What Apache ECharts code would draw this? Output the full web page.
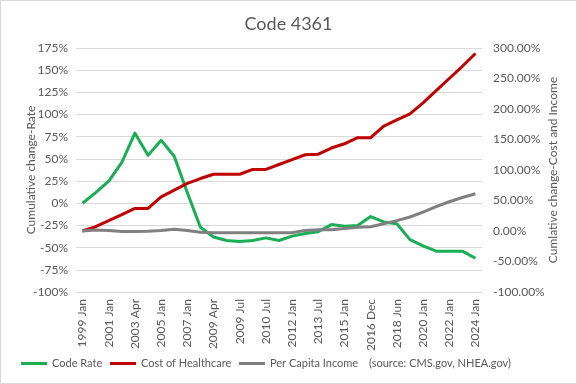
<!DOCTYPE html>
<html>
<head>
<meta charset="utf-8">
<script src="https://cdn.jsdelivr.net/npm/echarts@6/dist/echarts.min.js"></script>
<style>
html,body{margin:0;padding:0;background:#fff;}
#c{width:575px;height:382px;border:1px solid #d9d9d9;}
</style>
</head>
<body>
<div id="c"></div>
<script>
const categories = ['1999 Jan','2000 Jan','2001 Jan','2002 Jan','2003 Apr','2004 Jan','2005 Jan','2006 Jan','2007 Jan','2008 Jan',
  '2009 Apr','2009 Jan','2009 Jul','2010 Jan','2010 Jul','2011 Jan','2012 Jan','2012 Jul','2013 Jul','2014 Jan',
  '2015 Jan','2016 Jan','2016 Dec','2017 Jul','2018 Jun','2019 Jan','2020 Jan','2021 Jan','2022 Jan','2023 Jan','2024 Jan'];
const codeRate = [0, 12, 25, 46, 79, 54, 71, 53, 12, -27, -38, -42, -43, -42, -39, -42, -37, -34, -32, -24, -26, -25, -15, -21, -23, -41, -48, -54, -54, -54, -62];
const costHealthcare = [0, 7, 17, 27, 37, 37, 56, 67, 78, 86, 93, 93, 93, 101, 101, 109, 117, 125, 126, 136, 143, 153, 153, 172, 182, 192, 210, 230, 250, 270, 291];
const perCapitaIncome = [0, 1.5, 1, -1, -1, -0.5, 1, 3, 1, -2, -3, -3, -3, -3, -3, -3, -3, 1, 2, 2, 4, 6, 7, 12, 17, 23, 31, 40, 48, 55, 61];
const leftTicks = {min: -100, max: 175, interval: 25};
const rightTicks = {min: -100, max: 300, interval: 50};
const seriesNames = ['Code Rate', 'Cost of Healthcare', 'Per Capita Income'];
const sourceNote = '(source: CMS.gov, NHEA.gov)';

const txt = '#595959';
const font = 'Lato, "Noto Sans", sans-serif';
const fs = 12;
const lfs = 11;
const legendLefts = [20, 109, 238];
const chart = echarts.init(document.getElementById('c'));
chart.setOption({
  animation: false,
  textStyle: {fontFamily: font, color: txt},
  title: {text: 'Code 4361', left: 'center', top: 9,
    textStyle: {fontFamily: font, fontSize: 18, fontWeight: 'normal', color: txt}},
  grid: {left: 75, right: 94, top: 47, bottom: 91, containLabel: false},
  legend: seriesNames.map((n, i) => ({
    bottom: 14, left: legendLefts[i], padding: 0, itemWidth: 26, itemHeight: 3, icon: 'rect',
    textStyle: {fontFamily: font, fontSize: lfs, color: txt},
    data: [n]
  })),
  graphic: [{type: 'text', left: 368, bottom: 14,
    style: {text: sourceNote, font: lfs + 'px ' + font, fill: txt}}],
  xAxis: {
    type: 'category', data: categories, boundaryGap: true,
    axisLine: {show: false}, axisTick: {show: false},
    axisLabel: {rotate: 90, interval: 1, fontSize: fs, color: txt, fontFamily: font, margin: 7}
  },
  yAxis: [{
    type: 'value', min: leftTicks.min, max: leftTicks.max, interval: leftTicks.interval,
    name: 'Cumulative change-Rate', nameLocation: 'middle', nameRotate: 90, nameGap: 39,
    nameMoveOverlap: false,
    nameTextStyle: {fontSize: fs, color: txt, fontFamily: font},
    axisLabel: {formatter: v => v + '%', fontSize: fs, color: txt, fontFamily: font, margin: 8},
    axisLine: {show: false}, axisTick: {show: false},
    splitLine: {lineStyle: {color: '#d9d9d9', width: 1}}
  }, {
    type: 'value', position: 'right', min: rightTicks.min, max: rightTicks.max, interval: rightTicks.interval,
    name: 'Cumlative change-Cost and Income', nameLocation: 'middle', nameRotate: 90, nameGap: 65,
    nameMoveOverlap: false,
    nameTextStyle: {fontSize: fs, color: txt, fontFamily: font},
    axisLabel: {formatter: v => v.toFixed(2) + '%', fontSize: fs, color: txt, fontFamily: font, margin: 11},
    axisLine: {show: false}, axisTick: {show: false},
    splitLine: {show: false}
  }],
  series: [
    {name: seriesNames[0], type: 'line', yAxisIndex: 0, data: codeRate, showSymbol: false,
     lineStyle: {color: '#1aaf54', width: 3, join: 'round'}, itemStyle: {color: '#1aaf54'}},
    {name: seriesNames[1], type: 'line', yAxisIndex: 1, data: costHealthcare, showSymbol: false,
     lineStyle: {color: '#c00000', width: 3, join: 'round'}, itemStyle: {color: '#c00000'}},
    {name: seriesNames[2], type: 'line', yAxisIndex: 1, data: perCapitaIncome, showSymbol: false,
     lineStyle: {color: '#808080', width: 3, join: 'round'}, itemStyle: {color: '#808080'}}
  ]
});
</script>
</body>
</html>
